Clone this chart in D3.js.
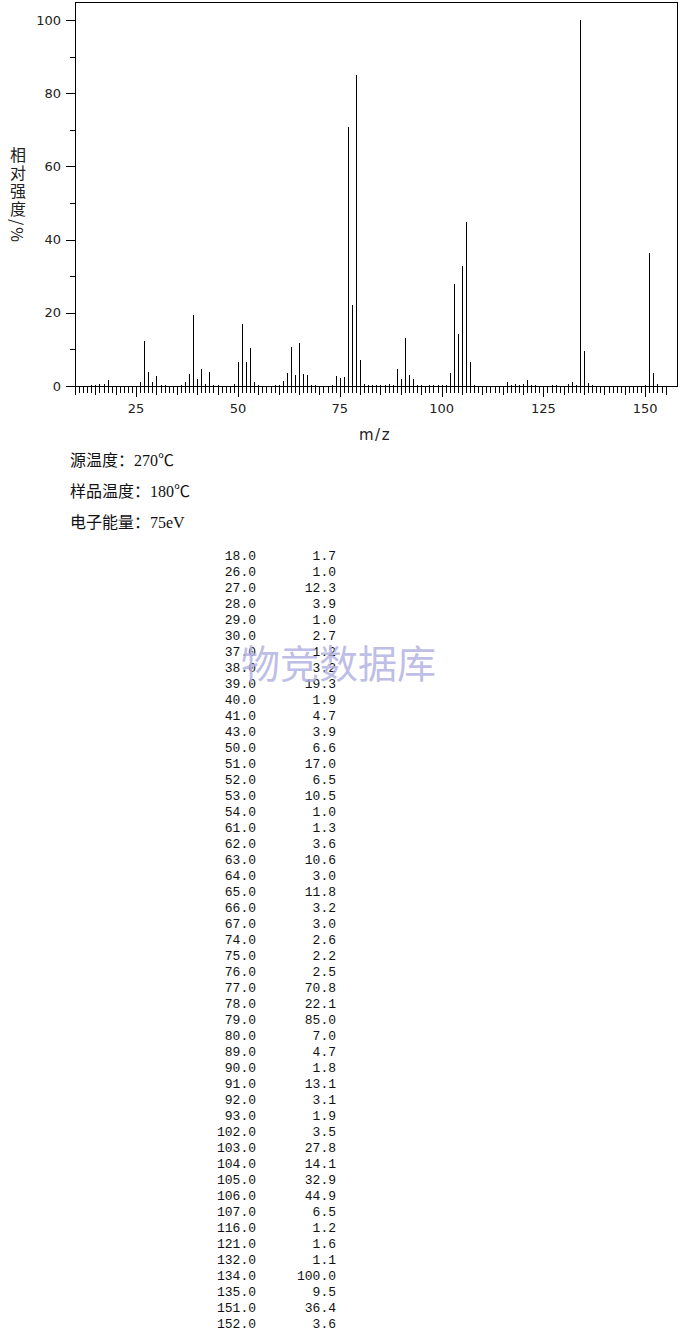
<!DOCTYPE html>
<html><head><meta charset="utf-8">
<script src="https://cdn.jsdelivr.net/npm/d3@7"></script>
<style>
html,body{margin:0;padding:0;background:#fff;}
svg{display:block;}
</style></head>
<body>
<script>
// ---- data ----
const peakMz = [18,26,27,28,29,30,37,38,39,40,41,43,50,51,52,53,54,61,62,63,64,65,66,67,74,75,76,77,78,79,80,89,90,91,92,93,102,103,104,105,106,107,116,121,132,134,135,151,152];
const peakIntensity = [1.7,1.0,12.3,3.9,1.0,2.7,1.2,3.2,19.3,1.9,4.7,3.9,6.6,17.0,6.5,10.5,1.0,1.3,3.6,10.6,3.0,11.8,3.2,3.0,2.6,2.2,2.5,70.8,22.1,85.0,7.0,4.7,1.8,13.1,3.1,1.9,3.5,27.8,14.1,32.9,44.9,6.5,1.2,1.6,1.1,100.0,9.5,36.4,3.6];
// small peaks visible in the plot but below the table's threshold
const minorMz = [14,15,16,17,31,32,36,42,44,45,49,55,59,60,68,69,73,81,82,83,84,85,86,87,88,94,95,97,98,99,100,101,108,117,118,119,120,122,123,127,128,131,133,136,137,150,153];
const minorIntensity = [0.4,0.3,0.5,0.6,0.4,0.3,0.4,0.6,0.4,0.3,0.5,0.4,0.3,0.4,0.3,0.3,0.4,0.5,0.4,0.4,0.3,0.4,0.3,0.5,0.4,0.4,0.3,0.3,0.3,0.4,0.3,0.4,0.4,0.4,0.5,0.4,0.5,0.3,0.4,0.3,0.4,0.5,0.4,0.8,0.4,0.4,0.5];
const yTicks = [0,20,40,60,80,100];
const xTickLabels = [25,50,75,100,125,150];
const infoLines = ["源温度：270℃","样品温度：180℃","电子能量：75eV"];
const yTitle = "相对强度/%";
const xTitle = "m/z";
const watermark = "物竞数据库";

// ---- layout ----
const W = 680, H = 1332;
const svg = d3.select("body").append("svg").attr("width", W).attr("height", H);
const plotL = 75, plotR = 677, plotT = 2, plotB = 386;
const x = d3.scaleLinear().domain([10, 157.8]).range([plotL, plotR]);
const y = d3.scaleLinear().domain([0, 100]).range([plotB, 20]);
const px = v => Math.round(x(v)) + 0.5;
const py = v => Math.round(y(v)) + 0.5;

const g = svg.append("g").attr("shape-rendering", "crispEdges");

// frame
g.append("rect").attr("x", plotL + 0.5).attr("y", plotT + 0.5)
  .attr("width", plotR - plotL).attr("height", plotB - plotT)
  .attr("fill", "none").attr("stroke", "#000").attr("stroke-width", 1);

// x ticks every unit, downward
const xt = d3.range(10, 156, 1);
g.selectAll("line.xt").data(xt).join("line")
  .attr("x1", d => px(d)).attr("x2", d => px(d))
  .attr("y1", plotB + 0.5)
  .attr("y2", d => plotB + 0.5 + (d % 25 === 0 ? 10 : d % 5 === 0 ? 8 : 6))
  .attr("stroke", "#000");

svg.selectAll("text.xl").data(xTickLabels).join("text")
  .attr("x", d => x(d)).attr("y", 413)
  .attr("text-anchor", "middle")
  .attr("font-family", "DejaVu Sans").attr("font-size", 13)
  .attr("fill", "#222").text(d => d);

// y ticks
const ytAll = d3.range(0, 101, 10);
g.selectAll("line.yt").data(ytAll).join("line")
  .attr("x1", d => plotL + 0.5 - (d % 20 === 0 ? 10 : 6)).attr("x2", plotL + 0.5)
  .attr("y1", d => py(d)).attr("y2", d => py(d))
  .attr("stroke", "#000");

svg.selectAll("text.yl").data(yTicks).join("text")
  .attr("x", 61).attr("y", d => y(d)).attr("dy", "0.36em")
  .attr("text-anchor", "end")
  .attr("font-family", "DejaVu Sans").attr("font-size", 13)
  .attr("fill", "#222").text(d => d);

// peaks
const minor = minorMz.map((m, i) => ({m, v: minorIntensity[i]}));
const major = peakMz.map((m, i) => ({m, v: peakIntensity[i]}));
g.selectAll("line.mn").data(minor).join("line")
  .attr("x1", d => px(d.m)).attr("x2", d => px(d.m))
  .attr("y1", plotB).attr("y2", d => Math.round(y(d.v)) - 0.5)
  .attr("stroke", "#000");
g.selectAll("line.pk").data(major).join("line")
  .attr("x1", d => px(d.m)).attr("x2", d => px(d.m))
  .attr("y1", plotB).attr("y2", d => Math.round(y(d.v)))
  .attr("stroke", "#000");

// axis titles
svg.append("text").attr("x", 375).attr("y", 440)
  .attr("text-anchor", "middle")
  .attr("font-family", "DejaVu Sans").attr("font-size", 15)
  .attr("letter-spacing", 1.5)
  .attr("fill", "#222").text(xTitle);

svg.append("text").attr("x", 18).attr("y", 147)
  .style("writing-mode", "vertical-rl")
  .attr("font-family", "Noto Sans CJK SC").attr("font-size", 16)
  .attr("letter-spacing", 2)
  .attr("fill", "#222").text(yTitle);

// info lines
svg.selectAll("text.info").data(infoLines).join("text")
  .attr("x", 70).attr("y", (d, i) => 460 + i * 31).attr("dy", "0.36em")
  .attr("font-family", "'Liberation Serif', 'Noto Sans CJK SC'")
  .attr("font-size", 16).attr("fill", "#111").text(d => d);

// table
const rows = svg.selectAll("g.row").data(major).join("g")
  .attr("transform", (d, i) => `translate(0,${555 + i * 16})`);
rows.append("text").attr("x", 256).attr("dy", "0.36em").attr("text-anchor", "end")
  .attr("font-family", "Liberation Mono").attr("font-size", 13).attr("fill", "#111")
  .text(d => d.m.toFixed(1));
rows.append("text").attr("x", 336).attr("dy", "0.36em").attr("text-anchor", "end")
  .attr("font-family", "Liberation Mono").attr("font-size", 13).attr("fill", "#111")
  .text(d => d.v.toFixed(1));

// watermark (overlaps the table in the reference too)
svg.append("text").attr("x", 241).attr("y", 664).attr("dy", "0.36em")
  .attr("font-family", "Noto Sans CJK SC").attr("font-size", 39)
  .attr("fill", "rgb(178,178,226)").attr("fill-opacity", 0.85)
  .text(watermark);
</script>
</body></html>
